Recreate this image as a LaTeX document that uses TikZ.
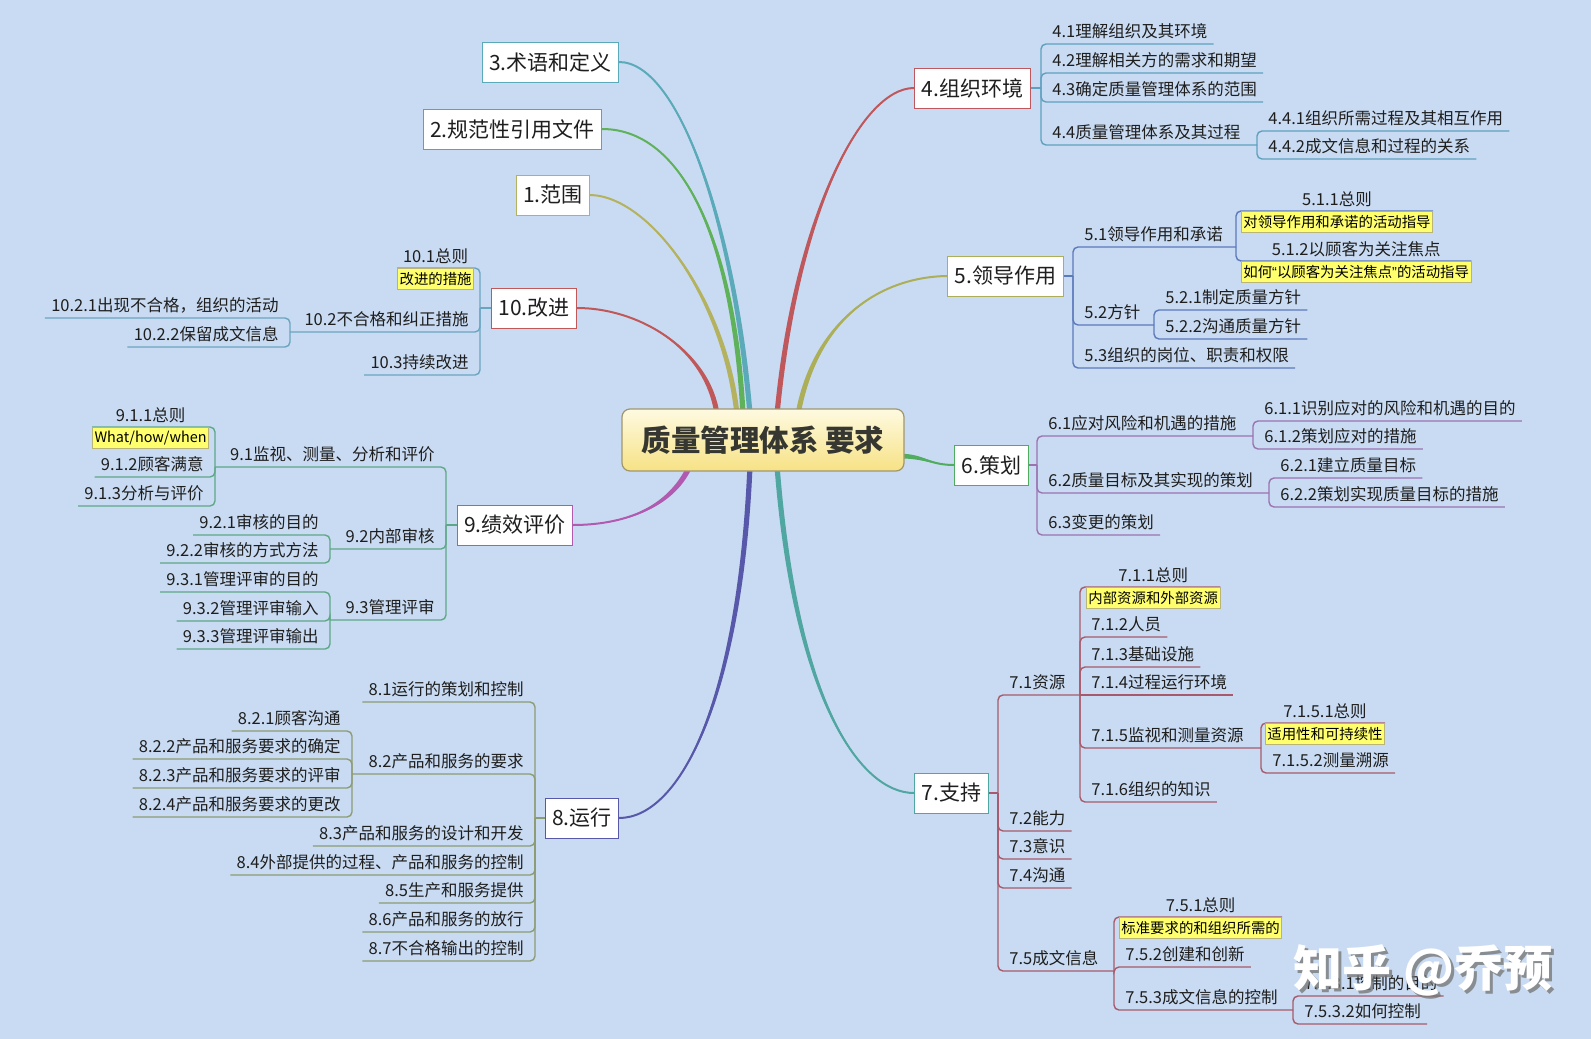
\documentclass[tikz,border=0pt]{standalone}
\usepackage{fontspec}
\setmainfont{Noto Sans CJK SC}
\newfontfamily\qfont{Liberation Sans}
\usetikzlibrary{calc}
\pgfdeclarelayer{bgfill}
\pgfdeclarelayer{links}
\pgfsetlayers{bgfill,links,main}
\definecolor{bgblue}{RGB}{201,219,242}
\definecolor{cA3}{RGB}{90,170,185}
\definecolor{cA2}{RGB}{95,178,90}
\definecolor{cA1}{RGB}{180,178,95}
\definecolor{cA10}{RGB}{192,88,90}
\definecolor{cA4}{RGB}{190,88,92}
\definecolor{cA5}{RGB}{172,174,88}
\definecolor{cA6}{RGB}{80,172,95}
\definecolor{cA9}{RGB}{176,90,176}
\definecolor{cA8}{RGB}{88,88,170}
\definecolor{cA7}{RGB}{80,166,160}
\definecolor{cL4}{RGB}{95,160,190}
\definecolor{cL5}{RGB}{92,122,188}
\definecolor{cL6}{RGB}{155,115,176}
\definecolor{cL7}{RGB}{168,90,108}
\definecolor{cL8}{RGB}{140,156,116}
\definecolor{cL9}{RGB}{95,168,135}
\definecolor{cL10}{RGB}{106,165,192}
\definecolor{txt}{RGB}{30,30,30}
\definecolor{labfill}{RGB}{255,255,110}
\definecolor{labdraw}{RGB}{185,180,120}
\definecolor{ctop}{RGB}{254,250,225}
\definecolor{cbot}{RGB}{247,226,132}
\definecolor{cbord}{RGB}{160,150,110}
\definecolor{ctitle}{RGB}{55,55,50}
\newcommand\mbranch[6]{%
  \fill[#1] ($(#2)+#6$) .. controls ($#3+#6$) and #4 .. (#5) .. controls #4 and ($#3-#6$) .. ($(#2)-#6$) -- cycle;
  \draw[#1,line width=1pt] (#2) .. controls #3 and #4 .. (#5);}
\tikzset{
  mainbox/.style={draw=#1, fill=white, line width=0.5pt, text=txt, font=\fontsize{10.5pt}{12pt}\selectfont, minimum height=20pt, inner xsep=3.5pt, inner ysep=0pt},
  rtx/.style={anchor=south west, text=txt, font=\fontsize{8.25pt}{10pt}\selectfont, inner xsep=3pt, inner ysep=3.2pt, text depth=0pt},
  ltx/.style={rtx, anchor=south east},
  lab/.style={draw=labdraw, fill=labfill, line width=0.4pt, text=black, font=\fontsize{7.2pt}{8.5pt}\selectfont, inner xsep=1pt, inner ysep=0pt, minimum height=10.5pt},
  ttl/.style={anchor=base, text=txt, font=\fontsize{8.25pt}{10pt}\selectfont, inner sep=0pt},
  lk/.style={draw=#1, line width=0.7pt, rounded corners=2.5pt},
}
\begin{document}
\begin{tikzpicture}[x=0.5pt,y=-0.5pt]
\begin{pgfonlayer}{bgfill}
\fill[bgblue] (0,0) rectangle (1591,1039);
\end{pgfonlayer}
\useasboundingbox (0,0) rectangle (1591,1039);

% center
\node[draw=cbord, line width=0.6pt, rounded corners=4pt, top color=ctop, bottom color=cbot,
      minimum width=141pt, minimum height=31pt, inner sep=0pt, text=ctitle,
      font=\fontsize{14.75pt}{17pt}\selectfont\bfseries] (c) at (763,440) {质量管理体系 要求};

% main topics
\node[mainbox=cA3, anchor=east] (m3) at (619,62) {3.术语和定义};
\node[mainbox=cA2, anchor=east] (m2) at (602,129) {2.规范性引用文件};
\node[mainbox=cA1, anchor=east] (m1) at (590,195) {1.范围};
\node[mainbox=cA10, anchor=east] (m10) at (577,308) {10.改进};
\node[mainbox=cA9, anchor=east] (m9) at (573,525) {9.绩效评价};
\node[mainbox=cA8, anchor=east] (m8) at (619,818) {8.运行};
\node[mainbox=cA4, anchor=west] (m4) at (914,88) {4.组织环境};
\node[mainbox=cA5, anchor=west] (m5) at (947,276) {5.领导作用};
\node[mainbox=cA6, anchor=west] (m6) at (954,465) {6.策划};
\node[mainbox=cA7, anchor=west] (m7) at (914,793) {7.支持};

% start points of main branches
\coordinate (s10) at ([xshift=-23pt,yshift=-3pt]c.north);
\coordinate (s1) at ([xshift=-13pt,yshift=-3pt]c.north);
\coordinate (s2) at ([xshift=-10pt,yshift=-3pt]c.north);
\coordinate (s3) at ([xshift=-6.5pt,yshift=-3pt]c.north);
\coordinate (s4) at ([xshift=7pt,yshift=-3pt]c.north);
\coordinate (s5) at ([xshift=17.5pt,yshift=-3pt]c.north);
\coordinate (s9) at ([xshift=-36.5pt,yshift=3pt]c.south);
\coordinate (s8) at ([xshift=-6.5pt,yshift=3pt]c.south);
\coordinate (s7) at ([xshift=7pt,yshift=3pt]c.south);
\coordinate (s6) at ([xshift=-3pt,yshift=-8pt]c.east);

% trunk points
\coordinate (p4) at (1041,88);
\coordinate (p44) at (1257,145);
\coordinate (p5) at (1073,276);
\coordinate (p51) at (1236,247);
\coordinate (p52) at (1154,325);
\coordinate (p6) at (1037,465);
\coordinate (p61) at (1253,436);
\coordinate (p62) at (1269,493);
\coordinate (p7) at (998,793);
\coordinate (p71) at (1080,695);
\coordinate (p715) at (1261,748);
\coordinate (p75) at (1114,971);
\coordinate (p753) at (1293,1010);
\coordinate (p8) at (535,818);
\coordinate (p82) at (352,774);
\coordinate (p9) at (446,525);
\coordinate (p91) at (215,467);
\coordinate (p92) at (330,549);
\coordinate (p93) at (330,620);
\coordinate (p10) at (480,308);
\coordinate (p102) at (290,332);

% ---- group 4
\node[rtx] (n41) at (1046,44) {4.1理解组织及其环境};
\node[rtx] (n42) at (1046,73) {4.2理解相关方的需求和期望};
\node[rtx] (n43) at (1046,102) {4.3确定质量管理体系的范围};
\node[rtx] (n44) at (1046,145) {4.4质量管理体系及其过程};
\node[rtx] (n441) at (1262,131) {4.4.1组织所需过程及其相互作用};
\node[rtx] (n442) at (1262,159) {4.4.2成文信息和过程的关系};

% ---- group 5
\node[rtx] (n51) at (1078,247) {5.1领导作用和承诺};
\node[lab, anchor=north west] (l511) at (1241,211) {对领导作用和承诺的活动指导};
\node[ttl] (t511) at ([yshift=3pt]l511.north) {5.1.1总则};
\node[lab, anchor=north west] (l512) at (1241,261) {如何{\qfont“}以顾客为关注焦点{\qfont”}的活动指导};
\node[ttl] (t512) at ([yshift=3pt]l512.north) {5.1.2以顾客为关注焦点};
\node[rtx] (n52) at (1078,325) {5.2方针};
\node[rtx] (n521) at (1159,310) {5.2.1制定质量方针};
\node[rtx] (n522) at (1159,339) {5.2.2沟通质量方针};
\node[rtx] (n53) at (1078,368) {5.3组织的岗位、职责和权限};

% ---- group 6
\node[rtx] (n61) at (1042,436) {6.1应对风险和机遇的措施};
\node[rtx] (n611) at (1258,421) {6.1.1识别应对的风险和机遇的目的};
\node[rtx] (n612) at (1258,449) {6.1.2策划应对的措施};
\node[rtx] (n62) at (1042,493) {6.2质量目标及其实现的策划};
\node[rtx] (n621) at (1274,478) {6.2.1建立质量目标};
\node[rtx] (n622) at (1274,507) {6.2.2策划实现质量目标的措施};
\node[rtx] (n63) at (1042,535) {6.3变更的策划};

% ---- group 7
\node[rtx] (n71) at (1003,695) {7.1资源};
\node[lab, anchor=north west] (l711) at (1086,587) {内部资源和外部资源};
\node[ttl] (t711) at ([yshift=3pt]l711.north) {7.1.1总则};
\node[rtx] (n712) at (1085,637) {7.1.2人员};
\node[rtx] (n713) at (1085,667) {7.1.3基础设施};
\node[rtx] (n714) at (1085,695) {7.1.4过程运行环境};
\node[rtx] (n715) at (1085,748) {7.1.5监视和测量资源};
\node[lab, anchor=north west] (l7151) at (1265,723) {适用性和可持续性};
\node[ttl] (t7151) at ([yshift=3pt]l7151.north) {7.1.5.1总则};
\node[rtx] (n7152) at (1266,773) {7.1.5.2测量溯源};
\node[rtx] (n716) at (1085,802) {7.1.6组织的知识};
\node[rtx] (n72) at (1003,831) {7.2能力};
\node[rtx] (n73) at (1003,859) {7.3意识};
\node[rtx] (n74) at (1003,888) {7.4沟通};
\node[rtx] (n75) at (1003,971) {7.5成文信息};
\node[lab, anchor=north west] (l751) at (1119,917) {标准要求的和组织所需的};
\node[ttl] (t751) at ([yshift=3pt]l751.north) {7.5.1总则};
\node[rtx] (n752) at (1119,967) {7.5.2创建和创新};
\node[rtx] (n753) at (1119,1010) {7.5.3成文信息的控制};
\node[rtx] (n7531) at (1298,996) {7.5.3.1控制的目的};
\node[rtx] (n7532) at (1298,1024) {7.5.3.2如何控制};

% ---- group 8
\node[ltx] (n81) at (530,702) {8.1运行的策划和控制};
\node[ltx] (n82) at (530,774) {8.2产品和服务的要求};
\node[ltx] (n821) at (347,731) {8.2.1顾客沟通};
\node[ltx] (n822) at (347,759) {8.2.2产品和服务要求的确定};
\node[ltx] (n823) at (347,788) {8.2.3产品和服务要求的评审};
\node[ltx] (n824) at (347,817) {8.2.4产品和服务要求的更改};
\node[ltx] (n83) at (530,846) {8.3产品和服务的设计和开发};
\node[ltx] (n84) at (530,875) {8.4外部提供的过程、产品和服务的控制};
\node[ltx] (n85) at (530,903) {8.5生产和服务提供};
\node[ltx] (n86) at (530,932) {8.6产品和服务的放行};
\node[ltx] (n87) at (530,961) {8.7不合格输出的控制};

% ---- group 9
\node[ltx] (n91) at (441,467) {9.1监视、测量、分析和评价};
\node[lab, anchor=north east] (l911) at (209,427) {What/how/when};
\node[ttl] (t911) at ([yshift=3pt]l911.north) {9.1.1总则};
\node[ltx] (n912) at (210,477) {9.1.2顾客满意};
\node[ltx] (n913) at (210,506) {9.1.3分析与评价};
\node[ltx] (n92) at (441,549) {9.2内部审核};
\node[ltx] (n921) at (325,535) {9.2.1审核的目的};
\node[ltx] (n922) at (325,563) {9.2.2审核的方式方法};
\node[ltx] (n93) at (441,620) {9.3管理评审};
\node[ltx] (n931) at (325,592) {9.3.1管理评审的目的};
\node[ltx] (n932) at (325,621) {9.3.2管理评审输入};
\node[ltx] (n933) at (325,649) {9.3.3管理评审输出};

% ---- group 10
\node[lab, anchor=north east] (l101) at (474,268) {改进的措施};
\node[ttl] (t101) at ([yshift=3pt]l101.north) {10.1总则};
\node[ltx] (n102) at (475,332) {10.2不合格和纠正措施};
\node[ltx] (n1021) at (285,318) {10.2.1出现不合格，组织的活动};
\node[ltx] (n1022) at (285,347) {10.2.2保留成文信息};
\node[ltx] (n103) at (475,375) {10.3持续改进};

% watermark
\node[text=black!55, opacity=0.75, font=\fontsize{24.5pt}{28pt}\selectfont\bfseries] (wms) at (1426,973) {知乎 @乔预};
\node[text=white, font=\fontsize{24.5pt}{28pt}\selectfont\bfseries] (wm) at (1423,970) {知乎 @乔预};

\begin{pgfonlayer}{links}
% main branches
\mbranch{cA10}{s10}{(708,350)}{(640,308)}{m10.east}{(2.6,0)}
\mbranch{cA1}{s1}{(725,300)}{(650,196)}{m1.east}{(2.6,0)}
\mbranch{cA2}{s2}{(735,260)}{(690,129)}{m2.east}{(2.6,0)}
\mbranch{cA3}{s3}{(735,230)}{(680,62)}{m3.east}{(2.6,0)}
\mbranch{cA4}{s4}{(795,220)}{(860,88)}{m4.west}{(2.6,0)}
\mbranch{cA5}{s5}{(815,320)}{(880,277)}{m5.west}{(2.6,0)}
\mbranch{cA6}{s6}{(925,456)}{(930,465)}{m6.west}{(0,2.4)}
\mbranch{cA9}{s9}{(670,510)}{(620,525)}{m9.east}{(2.4,1.2)}
\mbranch{cA8}{s8}{(740,700)}{(680,818)}{m8.east}{(2.6,0)}
\mbranch{cA7}{s7}{(795,700)}{(860,793)}{m7.west}{(2.6,0)}

% group 4
\draw[lk=cL4] (m4.east) -- (p4);
\draw[lk=cL4] (p4) |- (n41.south east);
\draw[lk=cL4] (p4) |- (n42.south east);
\draw[lk=cL4] (p4) |- (n43.south east);
\draw[lk=cL4] (p4) |- (p44);
\draw[lk=cL4] (p44) |- (n441.south east);
\draw[lk=cL4] (p44) |- (n442.south east);

% group 5
\draw[lk=cL5] (m5.east) -- (p5);
\draw[lk=cL5] (p5) |- (p51);
\draw[lk=cL5] (p51) |- (l511.north east);
\draw[lk=cL5] (p51) |- (l512.north east);
\draw[lk=cL5] (p5) |- (p52);
\draw[lk=cL5] (p52) |- (n521.south east);
\draw[lk=cL5] (p52) |- (n522.south east);
\draw[lk=cL5] (p5) |- (n53.south east);

% group 6
\draw[lk=cL6] (m6.east) -- (p6);
\draw[lk=cL6] (p6) |- (p61);
\draw[lk=cL6] (p61) |- (n611.south east);
\draw[lk=cL6] (p61) |- (n612.south east);
\draw[lk=cL6] (p6) |- (p62);
\draw[lk=cL6] (p62) |- (n621.south east);
\draw[lk=cL6] (p62) |- (n622.south east);
\draw[lk=cL6] (p6) |- (n63.south east);

% group 7
\draw[lk=cL7] (m7.east) -- (p7);
\draw[lk=cL7] (p7) |- (p71);
\draw[lk=cL7] (p71) |- (l711.north east);
\draw[lk=cL7] (p71) |- (n712.south east);
\draw[lk=cL7] (p71) |- (n713.south east);
\draw[lk=cL7] (p71) -- (n714.south east);
\draw[lk=cL7] (p71) |- (p715);
\draw[lk=cL7] (p715) |- (l7151.north east);
\draw[lk=cL7] (p715) |- (n7152.south east);
\draw[lk=cL7] (p71) |- (n716.south east);
\draw[lk=cL7] (p7) |- (n72.south east);
\draw[lk=cL7] (p7) |- (n73.south east);
\draw[lk=cL7] (p7) |- (n74.south east);
\draw[lk=cL7] (p7) |- (p75);
\draw[lk=cL7] (p75) |- (l751.north east);
\draw[lk=cL7] (p75) |- (n752.south east);
\draw[lk=cL7] (p75) |- (p753);
\draw[lk=cL7] (p753) |- (n7531.south east);
\draw[lk=cL7] (p753) |- (n7532.south east);

% group 8
\draw[lk=cL8] (m8.west) -- (p8);
\draw[lk=cL8] (p8) |- (n81.south west);
\draw[lk=cL8] (p8) |- (p82);
\draw[lk=cL8] (p82) |- (n821.south west);
\draw[lk=cL8] (p82) |- (n822.south west);
\draw[lk=cL8] (p82) |- (n823.south west);
\draw[lk=cL8] (p82) |- (n824.south west);
\draw[lk=cL8] (p8) |- (n83.south west);
\draw[lk=cL8] (p8) |- (n84.south west);
\draw[lk=cL8] (p8) |- (n85.south west);
\draw[lk=cL8] (p8) |- (n86.south west);
\draw[lk=cL8] (p8) |- (n87.south west);

% group 9
\draw[lk=cL9] (m9.west) -- (p9);
\draw[lk=cL9] (p9) |- (p91);
\draw[lk=cL9] (p91) |- (l911.north west);
\draw[lk=cL9] (p91) |- (n912.south west);
\draw[lk=cL9] (p91) |- (n913.south west);
\draw[lk=cL9] (p9) |- (p92);
\draw[lk=cL9] (p92) |- (n921.south west);
\draw[lk=cL9] (p92) |- (n922.south west);
\draw[lk=cL9] (p9) |- (p93);
\draw[lk=cL9] (p93) |- (n931.south west);
\draw[lk=cL9] (p93) |- (n932.south west);
\draw[lk=cL9] (p93) |- (n933.south west);

% group 10
\draw[lk=cL10] (m10.west) -- (p10);
\draw[lk=cL10] (p10) |- (l101.north west);
\draw[lk=cL10] (p10) |- (p102);
\draw[lk=cL10] (p102) |- (n1021.south west);
\draw[lk=cL10] (p102) |- (n1022.south west);
\draw[lk=cL10] (p10) |- (n103.south west);
\end{pgfonlayer}
\end{tikzpicture}
\end{document}
